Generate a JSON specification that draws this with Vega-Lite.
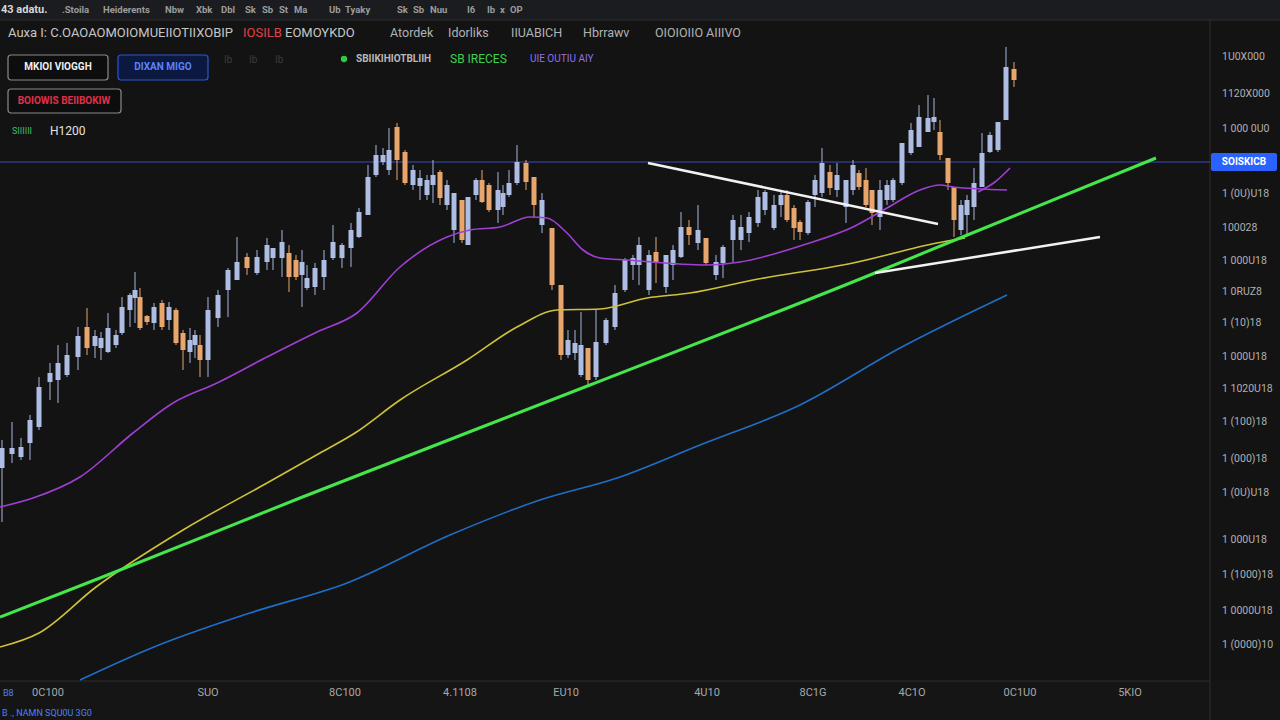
{
"$schema":"https://vega.github.io/schema/vega-lite/v6.json",
"width":1280,"height":720,"padding":0,"autosize":{"type":"none"},
"background":"#131313",
"config":{"view":{"stroke":null},"text":{"font":"Roboto"}},
"encoding":{
"x":{"field":"t","type":"quantitative","scale":{"domain":[0,1280],"nice":false,"zero":false,"padding":0},"axis":null},
"y":{"field":"p","type":"quantitative","scale":{"domain":[0,720],"nice":false,"zero":false,"padding":0},"axis":null}
},
"datasets":{
"candles":[
{"t":2,"o":252,"h":280,"l":198,"c":272},{"t":12,"o":266,"h":298,"l":257,"c":272},{"t":21,"o":263,"h":282,"l":260,"c":273},{"t":30,"o":277,"h":305,"l":260,"c":300},{"t":39,"o":293,"h":343,"l":290,"c":333},{"t":50,"o":338,"h":357,"l":320,"c":347},{"t":58,"o":340,"h":375,"l":317,"c":357},{"t":67,"o":345,"h":377,"l":343,"c":365},{"t":78,"o":363,"h":393,"l":350,"c":384},{"t":87,"o":393,"h":412,"l":365,"c":372},{"t":95,"o":374,"h":390,"l":362,"c":384},{"t":101,"o":372,"h":388,"l":360,"c":382},{"t":108,"o":368,"h":407,"l":367,"c":392},{"t":116,"o":375,"h":390,"l":372,"c":385},{"t":122,"o":387,"h":423,"l":385,"c":413},{"t":130,"o":410,"h":427,"l":393,"c":425},{"t":135,"o":422,"h":448,"l":397,"c":430},{"t":140,"o":423,"h":432,"l":390,"c":392},{"t":147,"o":404,"h":405,"l":395,"c":398},{"t":154,"o":397,"h":417,"l":390,"c":413},{"t":162,"o":417,"h":420,"l":390,"c":393},{"t":169,"o":400,"h":418,"l":390,"c":413},{"t":176,"o":410,"h":412,"l":375,"c":377},{"t":183,"o":387,"h":390,"l":350,"c":370},{"t":190,"o":368,"h":392,"l":357,"c":380},{"t":195,"o":375,"h":390,"l":362,"c":385},{"t":200,"o":375,"h":385,"l":343,"c":360},{"t":208,"o":360,"h":423,"l":343,"c":410},{"t":218,"o":402,"h":430,"l":393,"c":425},{"t":228,"o":430,"h":452,"l":403,"c":450},{"t":237,"o":440,"h":483,"l":440,"c":458},{"t":247,"o":463,"h":467,"l":445,"c":452},{"t":257,"o":447,"h":470,"l":445,"c":463},{"t":267,"o":458,"h":482,"l":450,"c":475},{"t":273,"o":462,"h":472,"l":450,"c":472},{"t":282,"o":462,"h":490,"l":443,"c":478},{"t":289,"o":467,"h":475,"l":428,"c":443},{"t":296,"o":460,"h":465,"l":440,"c":443},{"t":302,"o":445,"h":470,"l":413,"c":458},{"t":307,"o":432,"h":455,"l":430,"c":442},{"t":315,"o":433,"h":457,"l":425,"c":452},{"t":324,"o":443,"h":470,"l":430,"c":460},{"t":333,"o":462,"h":495,"l":460,"c":478},{"t":342,"o":462,"h":477,"l":452,"c":475},{"t":351,"o":472,"h":497,"l":453,"c":490},{"t":359,"o":483,"h":512,"l":482,"c":508},{"t":368,"o":505,"h":555,"l":505,"c":543},{"t":376,"o":545,"h":575,"l":543,"c":565},{"t":383,"o":558,"h":572,"l":555,"c":565},{"t":389,"o":550,"h":592,"l":545,"c":570},{"t":397,"o":593,"h":597,"l":540,"c":560},{"t":405,"o":568,"h":570,"l":535,"c":537},{"t":413,"o":535,"h":555,"l":530,"c":550},{"t":420,"o":534,"h":550,"l":520,"c":542},{"t":427,"o":525,"h":545,"l":520,"c":540},{"t":433,"o":535,"h":560,"l":517,"c":545},{"t":440,"o":548,"h":550,"l":515,"c":522},{"t":447,"o":515,"h":540,"l":510,"c":535},{"t":454,"o":490,"h":527,"l":477,"c":527},{"t":462,"o":520,"h":520,"l":477,"c":480},{"t":468,"o":475,"h":523,"l":475,"c":523},{"t":476,"o":525,"h":542,"l":520,"c":540},{"t":482,"o":540,"h":550,"l":517,"c":518},{"t":489,"o":535,"h":537,"l":508,"c":510},{"t":498,"o":510,"h":548,"l":497,"c":530},{"t":503,"o":513,"h":535,"l":505,"c":527},{"t":509,"o":525,"h":550,"l":523,"c":537},{"t":517,"o":537,"h":575,"l":535,"c":558},{"t":526,"o":557,"h":560,"l":530,"c":538},{"t":534,"o":543,"h":543,"l":503,"c":515},{"t":542,"o":495,"h":527,"l":487,"c":520},{"t":552,"o":492,"h":492,"l":430,"c":435},{"t":561,"o":435,"h":435,"l":360,"c":365},{"t":568,"o":365,"h":390,"l":362,"c":380},{"t":575,"o":367,"h":390,"l":360,"c":377},{"t":581,"o":345,"h":408,"l":343,"c":375},{"t":588,"o":372,"h":372,"l":333,"c":340},{"t":596,"o":343,"h":410,"l":340,"c":378},{"t":606,"o":377,"h":402,"l":375,"c":400},{"t":615,"o":393,"h":435,"l":390,"c":427},{"t":625,"o":430,"h":462,"l":428,"c":460},{"t":633,"o":455,"h":465,"l":440,"c":462},{"t":639,"o":455,"h":483,"l":435,"c":475},{"t":649,"o":430,"h":470,"l":425,"c":465},{"t":656,"o":468,"h":483,"l":437,"c":457},{"t":666,"o":433,"h":465,"l":427,"c":465},{"t":673,"o":455,"h":475,"l":440,"c":470},{"t":681,"o":463,"h":508,"l":462,"c":493},{"t":689,"o":493,"h":500,"l":475,"c":485},{"t":698,"o":477,"h":515,"l":470,"c":490},{"t":706,"o":482,"h":482,"l":455,"c":457},{"t":716,"o":445,"h":465,"l":440,"c":458},{"t":723,"o":457,"h":475,"l":442,"c":473},{"t":733,"o":480,"h":505,"l":458,"c":500},{"t":741,"o":480,"h":505,"l":470,"c":493},{"t":749,"o":487,"h":508,"l":478,"c":503},{"t":758,"o":497,"h":530,"l":493,"c":523},{"t":765,"o":510,"h":530,"l":505,"c":528},{"t":774,"o":492,"h":525,"l":490,"c":515},{"t":781,"o":515,"h":530,"l":503,"c":525},{"t":787,"o":525,"h":530,"l":498,"c":500},{"t":794,"o":512,"h":515,"l":480,"c":492},{"t":800,"o":498,"h":500,"l":480,"c":488},{"t":808,"o":487,"h":520,"l":485,"c":518},{"t":815,"o":525,"h":545,"l":513,"c":540},{"t":822,"o":527,"h":572,"l":523,"c":557},{"t":830,"o":548,"h":555,"l":525,"c":532},{"t":837,"o":530,"h":557,"l":523,"c":545},{"t":846,"o":513,"h":540,"l":497,"c":540},{"t":853,"o":530,"h":560,"l":525,"c":555},{"t":859,"o":547,"h":550,"l":530,"c":533},{"t":866,"o":540,"h":552,"l":513,"c":515},{"t":872,"o":530,"h":530,"l":495,"c":507},{"t":880,"o":503,"h":540,"l":490,"c":530},{"t":887,"o":520,"h":540,"l":515,"c":535},{"t":893,"o":520,"h":542,"l":518,"c":540},{"t":902,"o":537,"h":577,"l":535,"c":577},{"t":911,"o":567,"h":597,"l":565,"c":590},{"t":919,"o":573,"h":615,"l":573,"c":603},{"t":928,"o":588,"h":625,"l":588,"c":602},{"t":934,"o":598,"h":622,"l":590,"c":603},{"t":940,"o":588,"h":600,"l":560,"c":565},{"t":948,"o":562,"h":562,"l":530,"c":537},{"t":954,"o":533,"h":533,"l":483,"c":500},{"t":961,"o":490,"h":520,"l":485,"c":515},{"t":967,"o":505,"h":525,"l":485,"c":520},{"t":974,"o":513,"h":552,"l":500,"c":537},{"t":982,"o":533,"h":587,"l":533,"c":567},{"t":990,"o":568,"h":588,"l":567,"c":585},{"t":998,"o":570,"h":598,"l":568,"c":598},{"t":1006,"o":600,"h":673,"l":600,"c":653},{"t":1014,"o":651,"h":658,"l":633,"c":640}
],
"ma":[
{"s":"ma50","t":0,"p":213},{"s":"ma50","t":33,"p":222},{"s":"ma50","t":80,"p":243},{"s":"ma50","t":133,"p":287},{"s":"ma50","t":173,"p":317},{"s":"ma50","t":217,"p":337},{"s":"ma50","t":267,"p":363},{"s":"ma50","t":317,"p":388},{"s":"ma50","t":357,"p":407},{"s":"ma50","t":400,"p":453},{"s":"ma50","t":447,"p":483},{"s":"ma50","t":470,"p":490},{"s":"ma50","t":500,"p":493},{"s":"ma50","t":530,"p":503},{"s":"ma50","t":547,"p":502},{"s":"ma50","t":567,"p":487},{"s":"ma50","t":583,"p":470},{"s":"ma50","t":600,"p":462},{"s":"ma50","t":627,"p":460},{"s":"ma50","t":707,"p":455},{"s":"ma50","t":740,"p":458},{"s":"ma50","t":803,"p":475},{"s":"ma50","t":853,"p":493},{"s":"ma50","t":887,"p":512},{"s":"ma50","t":920,"p":530},{"s":"ma50","t":940,"p":535},{"s":"ma50","t":953,"p":533},{"s":"ma50","t":1007,"p":530},
{"s":"ma50b","t":978,"p":528},{"s":"ma50b","t":995,"p":538},{"s":"ma50b","t":1010,"p":552},
{"s":"ma100","t":0,"p":73},{"s":"ma100","t":39,"p":87},{"s":"ma100","t":96,"p":133},{"s":"ma100","t":183,"p":190},{"s":"ma100","t":267,"p":237},{"s":"ma100","t":320,"p":267},{"s":"ma100","t":355,"p":287},{"s":"ma100","t":400,"p":320},{"s":"ma100","t":467,"p":360},{"s":"ma100","t":517,"p":393},{"s":"ma100","t":557,"p":410},{"s":"ma100","t":600,"p":411},{"s":"ma100","t":647,"p":422},{"s":"ma100","t":690,"p":427},{"s":"ma100","t":753,"p":440},{"s":"ma100","t":853,"p":457},{"s":"ma100","t":937,"p":477},{"s":"ma100","t":965,"p":482},
{"s":"ma200","t":80,"p":40},{"s":"ma200","t":154,"p":73},{"s":"ma200","t":250,"p":107},{"s":"ma200","t":347,"p":137},{"s":"ma200","t":450,"p":185},{"s":"ma200","t":540,"p":220},{"s":"ma200","t":617,"p":242},{"s":"ma200","t":700,"p":275},{"s":"ma200","t":800,"p":315},{"s":"ma200","t":900,"p":372},{"s":"ma200","t":1007,"p":425}
],
"trend":[{"t":0,"p":103},{"t":100,"p":142},{"t":300,"p":222},{"t":590,"p":335},{"t":870,"p":445},{"t":960,"p":482},{"t":1156,"p":562}],
"whites":[{"t":648,"t2":938,"p":557,"p2":496},{"t":875,"t2":1100,"p":447,"p2":483}],
"level":[{"t":0,"t2":1210,"p":558,"p2":558}],
"seps":[{"t":0,"t2":1280,"p":700,"p2":700},{"t":0,"t2":1210,"p":39,"p2":39},{"t":1210,"t2":1210,"p":0,"p2":700}],
"header":[{"t":0,"t2":1280,"p":700,"p2":720}],
"footer":[{"t":0,"t2":1280,"p":0,"p2":39}],
"darkbox":[{"t":8,"t2":108,"p":640,"p2":665},{"t":8,"t2":121,"p":607,"p2":631}],
"bluebox":[{"t":118,"t2":208,"p":640,"p2":665}],
"hlbox":[{"t":1211,"t2":1277,"p":549,"p2":567}],
"dot":[{"t":344,"p":661}],
"txt":[
{"k":"tab0","t":1,"p":710,"s":"43 adatu."},
{"k":"tab","t":62,"p":710,"s":".Stoila"},{"k":"tab","t":103,"p":710,"s":"Heiderents"},{"k":"tab","t":165,"p":710,"s":"Nbw"},{"k":"tab","t":196,"p":710,"s":"Xbk"},{"k":"tab","t":221,"p":710,"s":"Dbl"},{"k":"tab","t":245,"p":710,"s":"Sk"},{"k":"tab","t":262,"p":710,"s":"Sb"},{"k":"tab","t":279,"p":710,"s":"St"},{"k":"tab","t":294,"p":710,"s":"Ma"},{"k":"tab","t":329,"p":710,"s":"Ub"},{"k":"tab","t":345,"p":710,"s":"Tyaky"},{"k":"tab","t":397,"p":710,"s":"Sk"},{"k":"tab","t":413,"p":710,"s":"Sb"},{"k":"tab","t":430,"p":710,"s":"Nuu"},{"k":"tab","t":467,"p":710,"s":"I6"},{"k":"tab","t":487,"p":710,"s":"Ib"},{"k":"tab","t":500,"p":710,"s":"x"},{"k":"tab","t":510,"p":710,"s":"OP"},
{"k":"title","t":8,"p":687,"s":"Auxa I: C.OAOAOMOIOMUEIIOTIIXOBIP"},{"k":"title","t":285,"p":687,"s":"EOMOYKDO"},
{"k":"titleRed","t":243,"p":687,"s":"IOSILB"},
{"k":"titleR","t":390,"p":687,"s":"Atordek"},{"k":"titleR","t":448,"p":687,"s":"Idorliks"},{"k":"titleR","t":511,"p":687,"s":"IIUABICH"},{"k":"titleR","t":583,"p":687,"s":"Hbrrawv"},{"k":"titleR","t":655,"p":687,"s":"OIOIOIIO AIIIVO"},
{"k":"ghost","t":224,"p":660,"s":"Ib"},{"k":"ghost","t":249,"p":660,"s":"Ib"},{"k":"ghost","t":275,"p":660,"s":"Ib"},
{"k":"legGray","t":356,"p":661,"s":"SBIIKIHIOTBLIIH"},
{"k":"legGreen","t":450,"p":661,"s":"SB IRECES"},
{"k":"legPurple","t":530,"p":661,"s":"UIE OUTIU AIY"},
{"k":"smallGreen","t":12,"p":589,"s":"SIIIIII"},
{"k":"h1200","t":50,"p":589,"s":"H1200"},
{"k":"axisR","t":1222,"p":663,"s":"1U0X000"},{"k":"axisR","t":1222,"p":626,"s":"1120X000"},{"k":"axisR","t":1222,"p":591,"s":"1 000 0U0"},{"k":"axisR","t":1222,"p":526,"s":"1 (0U)U18"},{"k":"axisR","t":1222,"p":492,"s":"100028"},{"k":"axisR","t":1222,"p":459,"s":"1 000U18"},{"k":"axisR","t":1222,"p":428,"s":"1 0RUZ8"},{"k":"axisR","t":1222,"p":397,"s":"1 (10)18"},{"k":"axisR","t":1222,"p":363,"s":"1 000U18"},{"k":"axisR","t":1222,"p":331,"s":"1 1020U18"},{"k":"axisR","t":1222,"p":298,"s":"1 (100)18"},{"k":"axisR","t":1222,"p":261,"s":"1 (000)18"},{"k":"axisR","t":1222,"p":227,"s":"1 (0U)U18"},{"k":"axisR","t":1222,"p":180,"s":"1 000U18"},{"k":"axisR","t":1222,"p":145,"s":"1 (1000)18"},{"k":"axisR","t":1222,"p":109,"s":"1 0000U18"},{"k":"axisR","t":1222,"p":75,"s":"1 (0000)10"},
{"k":"blueSmall","t":3,"p":27,"s":"B8"},{"k":"blueSmall","t":2,"p":7,"s":"B ., NAMN SQU0U 3G0"}
],
"ctxt":[
{"k":"btn1","t":58,"p":653,"s":"MKIOI VIOGGH"},
{"k":"btn2","t":163,"p":653,"s":"DIXAN MIGO"},
{"k":"red3","t":64,"p":619,"s":"BOIOWIS BEIIBOKIW"},
{"k":"hl","t":1244,"p":558,"s":"SOISKICB"},
{"k":"axisB","t":48,"p":27,"s":"0C100"},{"k":"axisB","t":208,"p":27,"s":"SUO"},{"k":"axisB","t":345,"p":27,"s":"8C100"},{"k":"axisB","t":460,"p":27,"s":"4.1108"},{"k":"axisB","t":566,"p":27,"s":"EU10"},{"k":"axisB","t":707,"p":27,"s":"4U10"},{"k":"axisB","t":813,"p":27,"s":"8C1G"},{"k":"axisB","t":912,"p":27,"s":"4C1O"},{"k":"axisB","t":1020,"p":27,"s":"0C1U0"},{"k":"axisB","t":1130,"p":27,"s":"5KIO"}
]
},
"layer":[
{"data":{"name":"header"},"mark":{"type":"rect","color":"#1a1c1f"},"encoding":{"x2":{"field":"t2"},"y2":{"field":"p2"}}},
{"data":{"name":"footer"},"mark":{"type":"rect","color":"#151515"},"encoding":{"x2":{"field":"t2"},"y2":{"field":"p2"}}},
{"data":{"name":"seps"},"mark":{"type":"rule","color":"#2e2e2e","strokeWidth":1},"encoding":{"x2":{"field":"t2"},"y2":{"field":"p2"}}},
{"data":{"name":"level"},"mark":{"type":"rule","color":"#2f3a86","strokeWidth":1.5},"encoding":{"x2":{"field":"t2"},"y2":{"field":"p2"}}},
{"data":{"name":"candles"},"mark":{"type":"rule","strokeWidth":1.2,"opacity":0.85},
 "encoding":{"y":{"field":"l","type":"quantitative","scale":{"domain":[0,720],"nice":false,"zero":false,"padding":0},"axis":null},"y2":{"field":"h"},
 "color":{"condition":{"test":"datum.c >= datum.o","value":"#a6b4dc"},"value":"#e3a46e"}}},
{"data":{"name":"candles"},"mark":{"type":"bar","width":5,"orient":"vertical"},
 "encoding":{"y":{"field":"o","type":"quantitative","scale":{"domain":[0,720],"nice":false,"zero":false,"padding":0},"axis":null},"y2":{"field":"c"},
 "color":{"condition":{"test":"datum.c >= datum.o","value":"#aebde3"},"value":"#e8a66c"}}},
{"data":{"name":"ma"},"mark":{"type":"line","strokeWidth":1.6,"interpolate":"monotone"},
 "encoding":{"color":{"field":"s","type":"nominal","scale":{"domain":["ma50","ma50b","ma100","ma200"],"range":["#a03fd6","#a03fd6","#cfc23a","#1f6fc8"]},"legend":null},"detail":{"field":"s"}}},
{"data":{"name":"trend"},"mark":{"type":"line","strokeWidth":3,"color":"#44e64c","interpolate":"monotone"},"encoding":{}},
{"data":{"name":"whites"},"mark":{"type":"rule","color":"#f2f2f2","strokeWidth":2.5},"encoding":{"x2":{"field":"t2"},"y2":{"field":"p2"}}},
{"data":{"name":"darkbox"},"mark":{"type":"rect","color":"#0d0d0d","stroke":"#8a8a8a","strokeWidth":1.2,"cornerRadius":3},"encoding":{"x2":{"field":"t2"},"y2":{"field":"p2"}}},
{"data":{"name":"bluebox"},"mark":{"type":"rect","color":"#0b1840","stroke":"#2c56d0","strokeWidth":1.2,"cornerRadius":3},"encoding":{"x2":{"field":"t2"},"y2":{"field":"p2"}}},
{"data":{"name":"hlbox"},"mark":{"type":"rect","color":"#2962ff","cornerRadius":2},"encoding":{"x2":{"field":"t2"},"y2":{"field":"p2"}}},
{"data":{"name":"dot"},"mark":{"type":"point","filled":true,"color":"#2ecc40","size":40,"opacity":1},"encoding":{}},
{"data":{"name":"txt"},"transform":[{"filter":"datum.k=='tab0'"}],"mark":{"type":"text","align":"left","baseline":"middle","color":"#d8d8d8","fontSize":11,"fontWeight":"bold"},"encoding":{"text":{"field":"s"}}},
{"data":{"name":"txt"},"transform":[{"filter":"datum.k=='tab'"}],"mark":{"type":"text","align":"left","baseline":"middle","color":"#9c9c9c","fontSize":9.5,"fontWeight":"bold"},"encoding":{"text":{"field":"s"}}},
{"data":{"name":"txt"},"transform":[{"filter":"datum.k=='title'"}],"mark":{"type":"text","align":"left","baseline":"middle","color":"#c6c6c6","fontSize":13},"encoding":{"text":{"field":"s"}}},
{"data":{"name":"txt"},"transform":[{"filter":"datum.k=='titleRed'"}],"mark":{"type":"text","align":"left","baseline":"middle","color":"#e0404a","fontSize":13},"encoding":{"text":{"field":"s"}}},
{"data":{"name":"txt"},"transform":[{"filter":"datum.k=='titleR'"}],"mark":{"type":"text","align":"left","baseline":"middle","color":"#b2b2b2","fontSize":12.5},"encoding":{"text":{"field":"s"}}},
{"data":{"name":"txt"},"transform":[{"filter":"datum.k=='ghost'"}],"mark":{"type":"text","align":"left","baseline":"middle","color":"#3c3c3c","fontSize":10},"encoding":{"text":{"field":"s"}}},
{"data":{"name":"txt"},"transform":[{"filter":"datum.k=='legGray'"}],"mark":{"type":"text","align":"left","baseline":"middle","color":"#b8b8b8","fontSize":10,"fontWeight":"bold"},"encoding":{"text":{"field":"s"}}},
{"data":{"name":"txt"},"transform":[{"filter":"datum.k=='legGreen'"}],"mark":{"type":"text","align":"left","baseline":"middle","color":"#3fd050","fontSize":12},"encoding":{"text":{"field":"s"}}},
{"data":{"name":"txt"},"transform":[{"filter":"datum.k=='legPurple'"}],"mark":{"type":"text","align":"left","baseline":"middle","color":"#8f72e6","fontSize":10},"encoding":{"text":{"field":"s"}}},
{"data":{"name":"txt"},"transform":[{"filter":"datum.k=='smallGreen'"}],"mark":{"type":"text","align":"left","baseline":"middle","color":"#3fbf60","fontSize":9},"encoding":{"text":{"field":"s"}}},
{"data":{"name":"txt"},"transform":[{"filter":"datum.k=='h1200'"}],"mark":{"type":"text","align":"left","baseline":"middle","color":"#e4e4e4","fontSize":12},"encoding":{"text":{"field":"s"}}},
{"data":{"name":"txt"},"transform":[{"filter":"datum.k=='axisR'"}],"mark":{"type":"text","align":"left","baseline":"middle","color":"#b0b0b0","fontSize":10.5},"encoding":{"text":{"field":"s"}}},
{"data":{"name":"txt"},"transform":[{"filter":"datum.k=='blueSmall'"}],"mark":{"type":"text","align":"left","baseline":"middle","color":"#4a80ff","fontSize":9},"encoding":{"text":{"field":"s"}}},
{"data":{"name":"ctxt"},"transform":[{"filter":"datum.k=='btn1'"}],"mark":{"type":"text","align":"center","baseline":"middle","color":"#f0f0f0","fontSize":10,"fontWeight":"bold"},"encoding":{"text":{"field":"s"}}},
{"data":{"name":"ctxt"},"transform":[{"filter":"datum.k=='btn2'"}],"mark":{"type":"text","align":"center","baseline":"middle","color":"#5a82ff","fontSize":10,"fontWeight":"bold"},"encoding":{"text":{"field":"s"}}},
{"data":{"name":"ctxt"},"transform":[{"filter":"datum.k=='red3'"}],"mark":{"type":"text","align":"center","baseline":"middle","color":"#e0304a","fontSize":10,"fontWeight":"bold"},"encoding":{"text":{"field":"s"}}},
{"data":{"name":"ctxt"},"transform":[{"filter":"datum.k=='hl'"}],"mark":{"type":"text","align":"center","baseline":"middle","color":"#ffffff","fontSize":10,"fontWeight":"bold"},"encoding":{"text":{"field":"s"}}},
{"data":{"name":"ctxt"},"transform":[{"filter":"datum.k=='axisB'"}],"mark":{"type":"text","align":"center","baseline":"middle","color":"#a8a8a8","fontSize":11},"encoding":{"text":{"field":"s"}}}
]
}
